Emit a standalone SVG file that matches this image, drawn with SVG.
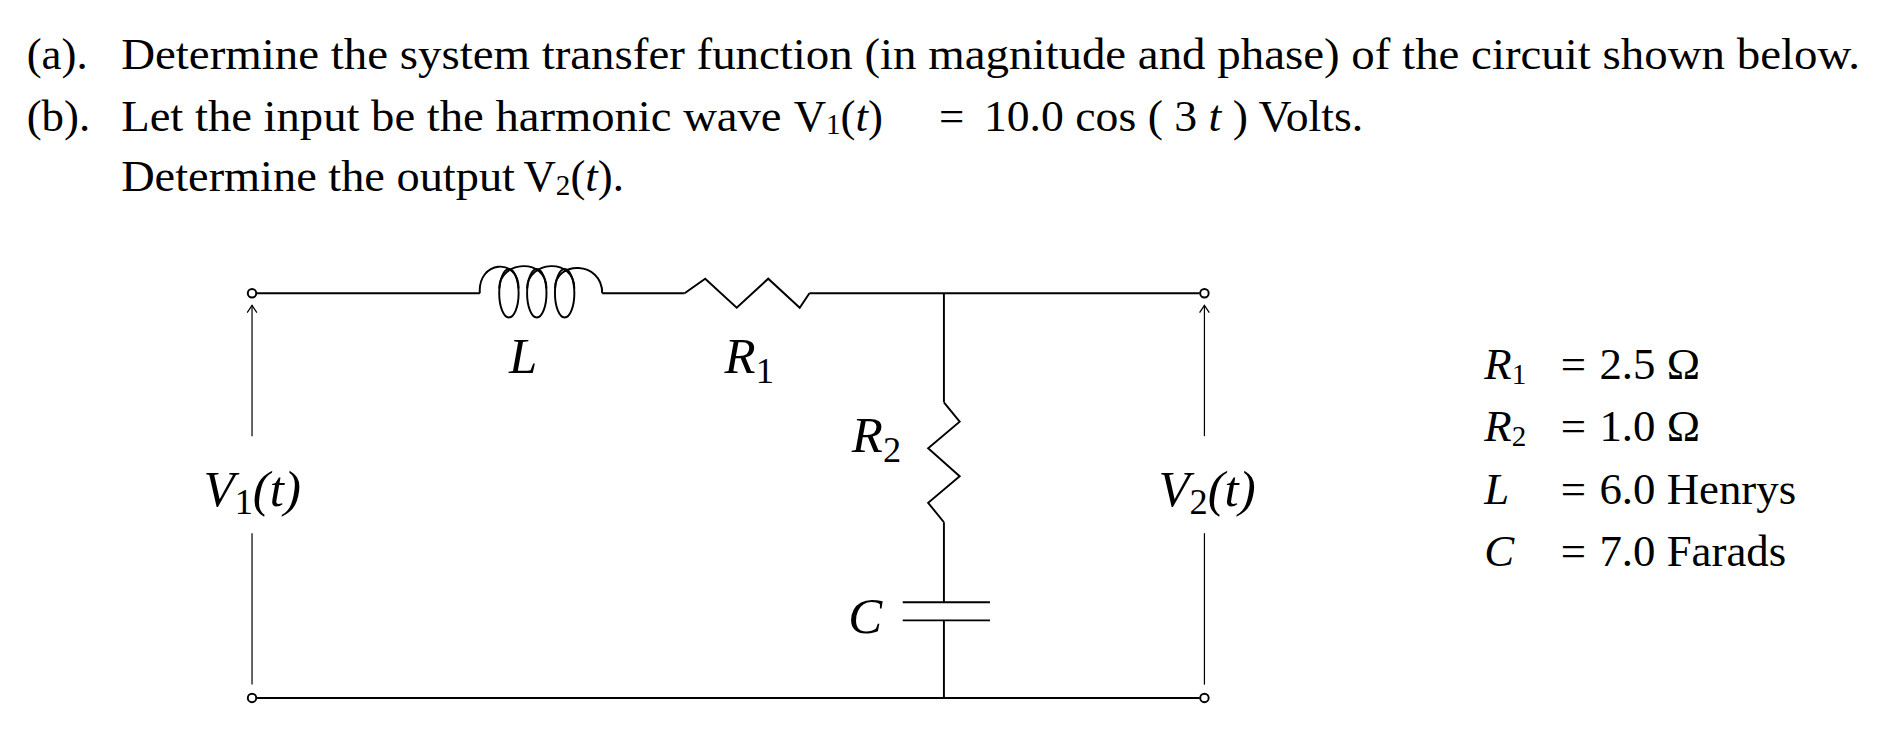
<svg xmlns="http://www.w3.org/2000/svg" width="1900" height="756" viewBox="0 0 1900 756">
<style>
.t{font-family:"Liberation Serif","Times New Roman",serif;font-size:37px;fill:#000}
.i{font-family:"Liberation Serif","Times New Roman",serif;font-style:italic;font-size:42px;fill:#000}
.v{font-family:"Liberation Serif","Times New Roman",serif;font-size:37px;fill:#000}
.w{fill:none;stroke:#000;stroke-width:1.6}
.a{fill:none;stroke:#000;stroke-width:1}
</style>
<defs><marker id="ar" markerWidth="12" markerHeight="12" refX="9" refY="5" orient="auto" markerUnits="userSpaceOnUse"><path d="M3,1 L9,5 L3,9" fill="none" stroke="#000" stroke-width="1"/></marker></defs>
<rect width="1900" height="756" fill="#fff"/>
<g transform="scale(1.2117)">
<g id="text">
<text class="t" x="22" y="57">(a).</text>
<text class="t" x="100" y="57" textLength="1435" lengthAdjust="spacingAndGlyphs">Determine the system transfer function (in magnitude and phase) of the circuit shown below.</text>
<text class="t" x="22" y="108">(b).</text>
<text class="t" x="100" y="108" textLength="545" lengthAdjust="spacingAndGlyphs">Let the input be the harmonic wave</text>
<text class="t" x="655" y="108">V<tspan font-size="24" dy="3">1</tspan><tspan dy="-3">(</tspan><tspan font-style="italic">t</tspan>)</text>
<text class="t" x="775" y="108">=</text>
<text class="t" x="812" y="108" textLength="313" lengthAdjust="spacingAndGlyphs">10.0 cos ( 3 <tspan font-style="italic">t</tspan> )  Volts.</text>
<text class="t" x="100" y="158" textLength="325" lengthAdjust="spacingAndGlyphs">Determine the output</text>
<text class="t" x="432" y="158">V<tspan font-size="24" dy="3">2</tspan><tspan dy="-3">(</tspan><tspan font-style="italic">t</tspan>).</text>
</g>
<g id="connectors">
<path class="w" d="M212,242 H396 M497,242 H565 M668,242 H990"/>
<path class="w" d="M212,576 H990"/>
<path class="w" d="M779,242 V332 M779,431 V497 M779,512 V576"/>
<path class="a" d="M208,360 V252" marker-end="url(#ar)"/>
<path class="a" d="M208,440 V565"/>
<path class="a" d="M994,360 V252" marker-end="url(#ar)"/>
<path class="a" d="M994,440 V565"/>
</g>
<g id="terminals" class="w">
<circle cx="208" cy="242" r="3.5"/><circle cx="208" cy="576" r="3.5"/>
<circle cx="994" cy="242" r="3.5"/><circle cx="994" cy="576" r="3.5"/>
</g>
<g id="L">
<path class="w" d="M396,242 C394,215 428,212 428,238 M412,238 C412,215 451,212 451,238 M435,238 C435,215 474,212 474,238 M458,238 C458,215 497,215 497,242"/>
<ellipse class="w" cx="420" cy="242" rx="8" ry="20"/>
<ellipse class="w" cx="443" cy="242" rx="8" ry="20"/>
<ellipse class="w" cx="466" cy="242" rx="8" ry="20"/>
<text class="i" x="420" y="308">L</text>
</g>
<g id="R1">
<path class="w" d="M565,242 L582,230 L608,254 L634,230 L660,254 L668,242"/>
<text class="i" x="598" y="308">R<tspan font-size="30" font-style="normal" dy="8">1</tspan></text>
</g>
<g id="R2">
<path class="w" d="M779,332 L792,348 L766,370 L792,393 L766,415 L779,431"/>
<text class="i" x="703" y="373">R<tspan font-size="30" font-style="normal" dy="8">2</tspan></text>
</g>
<g id="C">
<path class="w" d="M745,497 H817 M745,512 H817"/>
<text class="i" x="700" y="522">C</text>
</g>
<g id="V1"><text class="i" x="168" y="418">V<tspan font-size="30" font-style="normal" dy="6">1</tspan><tspan dy="-6">(t)</tspan></text></g>
<g id="V2"><text class="i" x="956" y="418">V<tspan font-size="30" font-style="normal" dy="6">2</tspan><tspan dy="-6">(t)</tspan></text></g>
<g id="values">
<text class="v" x="1225" y="313"><tspan font-style="italic">R</tspan><tspan font-size="24" dy="4">1</tspan></text>
<text class="v" x="1288" y="313">=</text><text class="v" x="1320" y="313">2.5 Ω</text>
<text class="v" x="1225" y="364"><tspan font-style="italic">R</tspan><tspan font-size="24" dy="4">2</tspan></text>
<text class="v" x="1288" y="364">=</text><text class="v" x="1320" y="364">1.0 Ω</text>
<text class="v" x="1225" y="416" font-style="italic">L</text>
<text class="v" x="1288" y="416">=</text><text class="v" x="1320" y="416">6.0 Henrys</text>
<text class="v" x="1225" y="467" font-style="italic">C</text>
<text class="v" x="1288" y="467">=</text><text class="v" x="1320" y="467">7.0 Farads</text>
</g>
</g>
</svg>
